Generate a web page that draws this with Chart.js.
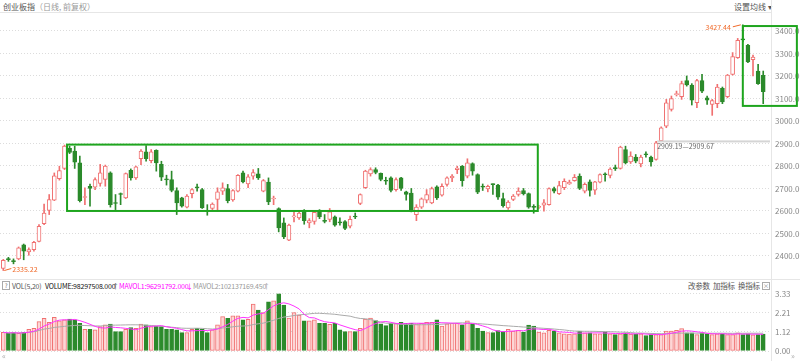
<!DOCTYPE html>
<html>
<head>
<meta charset="utf-8">
<script src="https://cdn.jsdelivr.net/npm/chart.js@4.4.1/dist/chart.umd.min.js"></script>
<style>
body { margin: 0; background: #fff; }
#wrap { position: relative; width: 800px; height: 361px; overflow: hidden; font-family: "Noto Sans CJK SC", sans-serif; color: #666; }
.t { position: absolute; white-space: nowrap; font-size: 8px; line-height: 10px; }
.s { font-size: 7px; letter-spacing: -0.2px; }
.ln { position: absolute; background: #e6e6e6; }
canvas { position: absolute; left: 0; }
</style>
</head>
<body>
<div id="wrap">
  <div class="t" style="left:3px;top:2px;color:#555">创业板指<span style="color:#999">（日线, 前复权）</span></div>
  <div class="t" style="left:734px;top:2px;color:#555">设置均线 ▾</div>
  <div class="ln" style="left:0;top:12px;width:771px;height:1px"></div>
  <div class="ln" style="left:771px;top:0;width:1px;height:361px"></div>
  <div class="ln" style="left:0;top:279px;width:800px;height:1px"></div>

  <canvas id="price" width="800" height="280" style="top:0"></canvas>

  <div class="t s" style="left:2px;top:281px;border:1px solid #aaa;width:6px;height:7px;line-height:7px;text-align:center;font-size:6px">?</div>
  <div class="t s" style="left:12px;top:281px;color:#555">VOL(5,20)</div>
  <div class="t s" style="left:45px;top:281px;color:#111">VOLUME:98297508.000</div>
  <div class="t s" style="left:112px;top:281px;color:#444">↑</div>
  <div class="t s" style="left:119px;top:281px;color:#f0f">MAVOL1:96291792.000</div>
  <div class="t s" style="left:186px;top:281px;color:#f0f">↓</div>
  <div class="t s" style="left:193px;top:281px;color:#999">MAVOL2:102137169.450</div>
  <div class="t s" style="left:263px;top:281px;color:#999">↑</div>
  <div class="t s" style="left:688px;top:281px;color:#555;font-size:7.5px">改参数</div>
  <div class="t s" style="left:713px;top:281px;color:#555;font-size:7.5px">加指标</div>
  <div class="t s" style="left:738px;top:281px;color:#555;font-size:7.5px">换指标</div>
  <div class="t" style="left:762px;top:282px;border:1px solid #aaa;width:6px;height:6px;line-height:6px;text-align:center;font-size:6px;color:#888">×</div>

  <canvas id="vol" width="800" height="71" style="top:290px"></canvas>
  <div class="t" style="left:2px;top:351px;color:#aaa">«</div>
  <div class="t" style="left:791px;top:351px;color:#aaa">»</div>
</div>

<script>
// trading days, one list per month
const tradeDays = {
  '2020-06': [22, 23, 24, 29, 30],
  '2020-07': [1, 2, 3, 6, 7, 8, 9, 10, 13, 14, 15, 16, 17, 20, 21, 22, 23, 24, 27, 28, 29, 30, 31],
  '2020-08': [3, 4, 5, 6, 7, 10, 11, 12, 13, 14, 17, 18, 19, 20, 21, 24, 25, 26, 27, 28, 31],
  '2020-09': [1, 2, 3, 4, 7, 8, 9, 10, 11, 14, 15, 16, 17, 18, 21, 22, 23, 24, 25, 28, 29, 30],
  '2020-10': [9, 12, 13, 14, 15, 16, 19, 20, 21, 22, 23, 26, 27, 28, 29, 30],
  '2020-11': [2, 3, 4, 5, 6, 9, 10, 11, 12, 13, 16, 17, 18, 19, 20, 23, 24, 25, 26, 27, 30],
  '2020-12': [1, 2, 3, 4, 7, 8, 9, 10, 11, 14, 15, 16, 17, 18, 21, 22, 23, 24, 25, 28, 29, 30, 31],
  '2021-01': [4, 5, 6, 7, 8, 11, 12, 13, 14, 15, 18, 19, 20, 21, 22, 25, 26, 27, 28]
};
const monthLabels = { '2020-07': '07', '2020-08': '08', '2020-09': '09', '2020-10': '10', '2020-11': '11', '2020-12': '12', '2021-01': '2021' };

const open = [2345,2387,2377,2387,2450,2418,2428,2465,2544,2602,2648,2744,2789,2878,2866,2814,2660,2710,2706,2722,
  2740,2769,2637,2674,2658,2781,2747,2832,2863,2824,2869,2807,2740,2740,2691,2658,2617,2677,2704,2695,
  2601,2611,2651,2688,2700,2649,2688,2769,2720,2755,2765,2688,2728,2653,2611,2547,2470,2574,2569,2599,
  2547,2554,2603,2556,2562,2574,2548,2553,2532,2574,2633,2703,2765,2784,2767,2733,2747,2695,2747,2685,
  2680,2584,2617,2648,2636,2707,2670,2718,2747,2784,2799,2755,2811,2762,2707,2698,2718,2715,2655,2614,
  2651,2673,2691,2677,2618,2616,2626,2628,2700,2677,2703,2720,2735,2755,2688,2729,2692,2728,2763,2758,
  2790,2789,2873,2818,2839,2809,2852,2839,2829,2912,2977,3051,3117,3108,3180,3160,3081,3180,3103,3074,
  3077,3145,3108,3207,3281,3365,3336,3272,3222,3203];
const high = [2385,2394,2387,2440,2453,2436,2465,2539,2631,2673,2769,2799,2893,2888,2888,2844,2703,2720,2747,2807,
  2804,2774,2673,2680,2769,2787,2799,2873,2891,2873,2872,2821,2759,2777,2703,2661,2673,2700,2720,2700,
  2628,2636,2703,2725,2718,2695,2762,2777,2762,2784,2789,2740,2747,2666,2614,2569,2542,2599,2603,2606,
  2566,2602,2606,2584,2611,2578,2569,2557,2577,2591,2676,2781,2792,2792,2769,2750,2752,2747,2750,2688,
  2700,2628,2658,2695,2706,2712,2721,2752,2762,2799,2802,2832,2814,2765,2720,2715,2721,2718,2680,2646,
  2673,2703,2700,2680,2628,2624,2651,2703,2706,2732,2743,2737,2762,2765,2725,2738,2732,2765,2769,2792,
  2804,2888,2888,2863,2851,2848,2863,2844,2909.19,2974,3096,3111,3133,3177,3200,3166,3185,3207,3111,3096,
  3163,3151,3207,3304,3367,3427.44,3341,3293,3252,3222];
const low = [2335.22,2376,2365,2383,2383,2403,2421,2462,2539,2584,2646,2737,2784,2855,2789,2640,2628,2621,2695,2710,
  2710,2617,2606,2628,2655,2737,2740,2806,2821,2814,2777,2735,2715,2685,2584,2617,2614,2658,2688,2611,
  2581,2606,2599,2673,2636,2643,2685,2725,2703,2741,2740,2685,2628,2628,2507,2477,2468,2551,2562,2541,
  2525,2541,2566,2547,2552,2532,2537,2517,2525,2566,2628,2700,2755,2765,2734,2718,2685,2688,2691,2648,
  2596,2557,2611,2636,2632,2651,2666,2710,2730,2766,2710,2747,2759,2677,2691,2685,2673,2651,2617,2607,
  2646,2666,2671,2612,2590,2611,2599,2626,2680,2673,2695,2718,2732,2695,2680,2666,2673,2725,2732,2747,
  2780,2786,2809,2811,2814,2796,2839,2799,2826,2909.67,2970,3044,3111,3096,3155,3071,3059,3126,3074,3025,
  3059,3077,3103,3204,3278,3352,3259,3200,3163,3077];
const close = [2381,2384,2375,2436,2421,2428,2461,2532,2591,2651,2756,2780,2888,2860,2817,2646,2663,2700,2740,2769,
  2799,2628,2633,2673,2766,2747,2796,2866,2832,2863,2814,2750,2738,2691,2636,2621,2666,2695,2703,2614,
  2598,2631,2685,2703,2646,2691,2758,2729,2752,2771,2747,2735,2640,2655,2525,2485,2537,2577,2591,2557,
  2557,2594,2574,2554,2596,2537,2547,2522,2563,2573,2673,2777,2784,2771,2740,2732,2691,2740,2700,2673,
  2599,2617,2654,2673,2700,2658,2710,2747,2755,2791,2735,2814,2777,2683,2706,2710,2717,2661,2624,2640,
  2666,2688,2677,2617,2616,2619,2636,2700,2688,2713,2732,2728,2750,2700,2718,2691,2729,2762,2761,2786,
  2788,2884,2814,2844,2821,2839,2850,2818,2903,2970,3081,3100,3120,3166,3160,3093,3180,3133,3093,3091,
  3151,3085,3204,3286,3358,3360,3262,3284,3166,3130];
// volume in 1e8
const volume = [1.08,1.02,1.06,1.02,1.08,1.25,1.31,1.70,1.89,1.66,1.95,1.74,1.80,1.85,1.80,1.60,1.25,1.25,1.22,1.41,
  1.51,1.56,1.12,1.12,1.25,1.35,1.31,1.56,1.51,1.41,1.45,1.41,1.25,1.25,1.22,1.06,1.06,1.25,1.31,1.25,
  1.06,1.22,1.51,1.99,1.89,2.03,2.03,1.80,1.83,2.72,2.37,2.22,2.85,2.90,3.33,2.66,1.90,2.22,2.08,1.74,
  1.74,1.80,1.60,1.60,1.54,1.60,1.22,1.12,1.12,1.12,1.31,1.85,1.90,1.76,1.57,1.47,1.60,1.60,1.66,1.60,
  1.60,1.57,1.60,1.66,1.66,1.80,1.45,1.57,1.60,1.60,1.51,1.74,1.54,1.31,1.16,1.06,1.06,1.18,1.12,1.26,
  1.16,1.20,1.10,1.50,1.45,1.10,1.05,1.20,1.15,1.05,1.00,0.98,1.00,1.15,1.05,1.05,1.00,1.00,1.10,1.00,
  0.95,1.00,1.05,0.98,0.98,1.00,0.90,0.95,0.95,0.95,1.15,1.15,1.20,1.30,1.05,1.05,0.95,1.05,1.00,0.95,
  1.00,1.00,0.95,0.95,1.05,0.95,1.00,0.93,0.95,0.983];

const priceTicks = [2400, 2500, 2600, 2700, 2800, 2900, 3000, 3100, 3200, 3300, 3400];
const volTicks = [0, 1.12, 2.21, 3.33];

// hand drawn boxes and the gap line (in bar index / price units)
const boxes = [
  { from: 12.5, to: 104.8, low: 2600, high: 2895 },
  { from: 145.0, to: 155.6, low: 3067, high: 3422 }
];
const gap = { from: 129, low: 2909.19, high: 2909.67 };

const RED = '#f07070';
const GREEN = '#2b8a2b';

const dates = [];
const monthStart = {};
Object.entries(tradeDays).forEach(([m, days]) => {
  if (monthLabels[m]) monthStart[dates.length] = monthLabels[m];
  days.forEach(d => dates.push(m + '-' + String(d).padStart(2, '0')));
});
const idx = dates.map((d, i) => i);
const up = idx.map(i => close[i] >= open[i]);

function movingAvg(arr, n) {
  return arr.map((v, i) => {
    const part = arr.slice(Math.max(0, i - n + 1), i + 1);
    return part.reduce((a, b) => a + b, 0) / part.length;
  });
}
const ma5 = movingAvg(volume, 5);
const ma20 = movingAvg(volume, 20);

const xRange = { min: -0.647, max: 150.33 };
const axisFont = { family: '"Noto Sans CJK SC", sans-serif', size: 8 };

const marks = {
  id: 'marks',
  afterDatasetsDraw(chart) {
    const { ctx, scales: { x, y } } = chart;
    ctx.save();
    ctx.strokeStyle = '#1ea51e';
    ctx.lineWidth = 2;
    boxes.forEach(b => {
      const x0 = x.getPixelForValue(b.from), x1 = x.getPixelForValue(b.to);
      const y0 = y.getPixelForValue(b.high), y1 = y.getPixelForValue(b.low);
      ctx.strokeRect(x0, y0, x1 - x0, y1 - y0);
    });
    // gap line
    const gx = x.getPixelForValue(gap.from) - 4;
    const gy = y.getPixelForValue(gap.low);
    ctx.fillStyle = '#d5d5d5';
    ctx.fillRect(gx, gy - 1, chart.chartArea.right - gx, 2);
    ctx.fillStyle = '#666';
    ctx.font = '7px "Noto Sans CJK SC"';
    ctx.textBaseline = 'top';
    ctx.fillText(gap.low.toFixed(2) + '—' + gap.high.toFixed(2), gx, gy + 1);
    // max / min labels
    const hi = high.indexOf(Math.max(...high)), lo = low.indexOf(Math.min(...low));
    ctx.fillStyle = '#f06a2a';
    ctx.strokeStyle = '#f06a2a';
    ctx.lineWidth = 1;
    ctx.textBaseline = 'middle';
    const hx = x.getPixelForValue(hi), hy = y.getPixelForValue(high[hi]);
    ctx.textAlign = 'right';
    ctx.fillText(high[hi].toFixed(2), hx - 12, hy + 3);
    ctx.beginPath(); ctx.moveTo(hx - 10, hy + 2); ctx.lineTo(hx - 2, hy); ctx.stroke();
    const lx = x.getPixelForValue(lo), ly = y.getPixelForValue(low[lo]);
    ctx.textAlign = 'left';
    ctx.fillText(low[lo].toFixed(2), lx + 9, ly - 1);
    ctx.beginPath(); ctx.moveTo(lx + 1, ly); ctx.lineTo(lx + 8, ly - 2); ctx.stroke();
    ctx.restore();
  }
};

new Chart(document.getElementById('price'), {
  type: 'bar',
  data: {
    datasets: [{
      data: idx.map(i => ({ x: i, y: [open[i], close[i]] })),
      backgroundColor: up.map(u => u ? '#fff' : GREEN),
      borderColor: up.map(u => u ? RED : GREEN),
      borderWidth: 1,
      borderSkipped: false,
      barThickness: 4,
      minBarLength: 1,
      grouped: false,
      order: 0
    }, {
      data: idx.map(i => ({ x: i, y: [low[i], high[i]] })),
      backgroundColor: up.map(u => u ? RED : GREEN),
      barThickness: 1,
      grouped: false,
      order: 1
    }]
  },
  options: {
    responsive: false,
    animation: false,
    layout: { padding: { top: 13, bottom: 2, left: 0, right: 0 } },
    plugins: { legend: { display: false }, tooltip: { enabled: false } },
    scales: {
      x: { type: 'linear', offset: false, min: xRange.min, max: xRange.max, display: false },
      y: {
        position: 'right', min: 2302, max: 3480,
        afterBuildTicks(s) { s.ticks = priceTicks.map(v => ({ value: v })); },
        afterFit(s) { s.width = 30; s.paddingTop = 0; s.paddingBottom = 0; },
        grid: { color: '#dcdcdc', drawTicks: false },
        border: { display: false, dash: [1, 2] },
        ticks: { padding: 5, color: '#888', font: axisFont, callback: v => v.toFixed(2) }
      }
    }
  },
  plugins: [marks]
});

new Chart(document.getElementById('vol'), {
  data: {
    datasets: [{
      type: 'line',
      data: idx.map(i => ({ x: i, y: ma5[i] })),
      borderColor: '#ff33ff', borderWidth: 1, pointRadius: 0, order: 0
    }, {
      type: 'line',
      data: idx.map(i => ({ x: i, y: ma20[i] })),
      borderColor: '#aaaaaa', borderWidth: 1, pointRadius: 0, order: 1
    }, {
      type: 'bar',
      data: idx.map(i => ({ x: i, y: volume[i] })),
      backgroundColor: up.map(u => u ? '#fdd6d6' : GREEN),
      borderColor: up.map(u => u ? RED : GREEN),
      borderWidth: 1,
      borderSkipped: false,
      barThickness: 4,
      order: 2
    }]
  },
  options: {
    responsive: false,
    animation: false,
    layout: { padding: { top: 3.5, bottom: 0, left: 0, right: 0 } },
    plugins: { legend: { display: false }, tooltip: { enabled: false } },
    scales: {
      x: {
        type: 'linear', offset: false, min: xRange.min, max: xRange.max,
        afterBuildTicks(s) { s.ticks = Object.keys(monthStart).map(k => ({ value: +k })); },
        afterFit(s) { s.height = 10; },
        grid: { display: false },
        border: { display: false },
        ticks: { autoSkip: false, maxRotation: 0, padding: 1, color: '#666', font: axisFont, callback: v => monthStart[v] }
      },
      y: {
        position: 'right', min: 0, max: 3.33,
        afterBuildTicks(s) { s.ticks = volTicks.map(v => ({ value: v })); },
        afterFit(s) { s.width = 30; s.paddingTop = 0; s.paddingBottom = 0; },
        grid: { color: '#dcdcdc', drawTicks: false },
        border: { display: false, dash: [1, 2] },
        ticks: { padding: 5, color: '#888', font: axisFont, callback: v => v.toFixed(2) }
      }
    }
  }
});
</script>
</body>
</html>
